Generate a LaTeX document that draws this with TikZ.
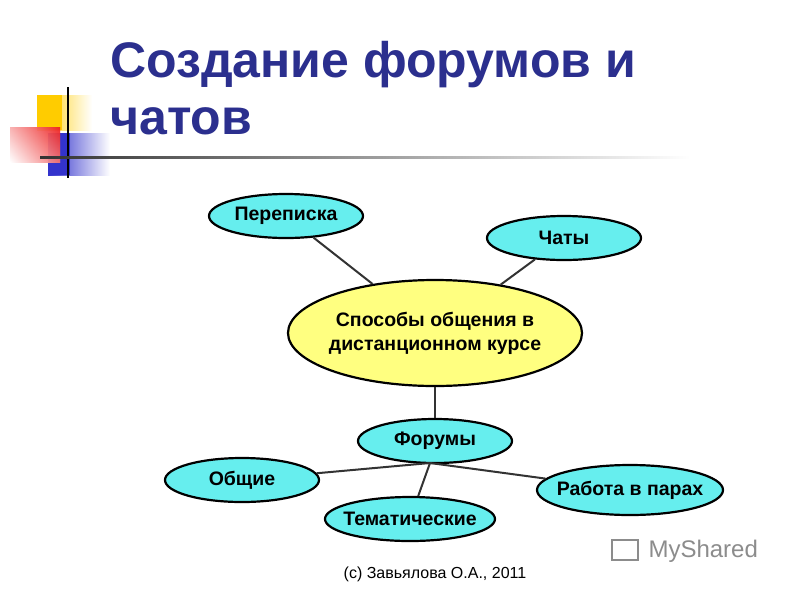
\documentclass[tikz,border=0pt]{standalone}
\usepackage{fontspec}
\setmainfont{Liberation Sans}
\definecolor{ttl}{HTML}{2B2F8E}
\definecolor{cyanf}{HTML}{66EEEE}
\definecolor{yelf}{HTML}{FFFF80}
\definecolor{yel}{HTML}{FFCC00}
\definecolor{rd}{HTML}{EE2020}
\definecolor{bl}{HTML}{3333CC}
\begin{document}
\begin{tikzpicture}[x=1pt,y=-1pt,
  ov/.style={ellipse,draw=black,line width=2.2pt,fill=cyanf,inner xsep=-14pt,inner ysep=0pt,font=\fontsize{19.5}{24}\selectfont\bfseries,align=center},
  ln/.style={line width=2pt,draw=black!80}]
\usetikzlibrary{shapes.geometric}
\useasboundingbox[fill=white] (0,0) rectangle (800,600);
% decoration
\shade[left color=yel,right color=white] (37,95) rectangle (92,130);
\fill[yel] (37,95) rectangle (62,130);
\shade[left color=bl,right color=white] (48,133) rectangle (110,175);
\fill[bl] (48,133) rectangle (70,175);
\shade[top color=rd,bottom color=white,opacity=0.85] (10,127) rectangle (60,162);
\shade[left color=white,right color=rd,opacity=0.6] (10,127) rectangle (60,162);
\draw[line width=1.5pt] (68,87) -- (68,178);
\shade[left color=black!80,right color=white] (40,156) rectangle (690,158.5);
% title
\node[anchor=base west,text=ttl,font=\fontsize{50}{54}\selectfont\bfseries,inner sep=0pt] (t1) at (110,77) {Создание форумов и};
\node[anchor=base west,text=ttl,font=\fontsize{50}{54}\selectfont\bfseries,inner sep=0pt] (t2) at (110,134) {чатов};
% nodes
\node[ov,fill=yelf,minimum width=294,minimum height=106] (m) at (435,333) {Способы общения в\\дистанционном курсе};
\node[ov,minimum width=154,minimum height=44] (p) at (286,216) {Переписка};
\node[ov,minimum width=154,minimum height=44] (c) at (564,238) {Чаты};
\node[ov,minimum width=154,minimum height=44] (f) at (435,441) {Форумы};
\node[ov,minimum width=154,minimum height=44] (o) at (242,480) {Общие};
\node[ov,minimum width=170,minimum height=44] (t) at (410,519) {Тематические};
\node[ov,minimum width=186,minimum height=50] (r) at (630,490) {Работа в парах};
\coordinate (j) at (430,463);
\draw[ln] (p) -- (m);
\draw[ln] (c) -- (m);
\draw[ln] (m) -- (f);
\draw[ln] (o) -- (j) -- (r);
\draw[ln] (t) -- (j);
\node[font=\fontsize{16}{18}\selectfont] (ft) at (435,574) {(c) Завьялова О.А., 2011};
\node[font=\fontsize{24}{26}\selectfont,text=black!45,anchor=west] (ms) at (645,551) {MyShared};
\draw[black!45,line width=1.2pt] (612,540) rectangle (638,560);
\end{tikzpicture}
\end{document}
